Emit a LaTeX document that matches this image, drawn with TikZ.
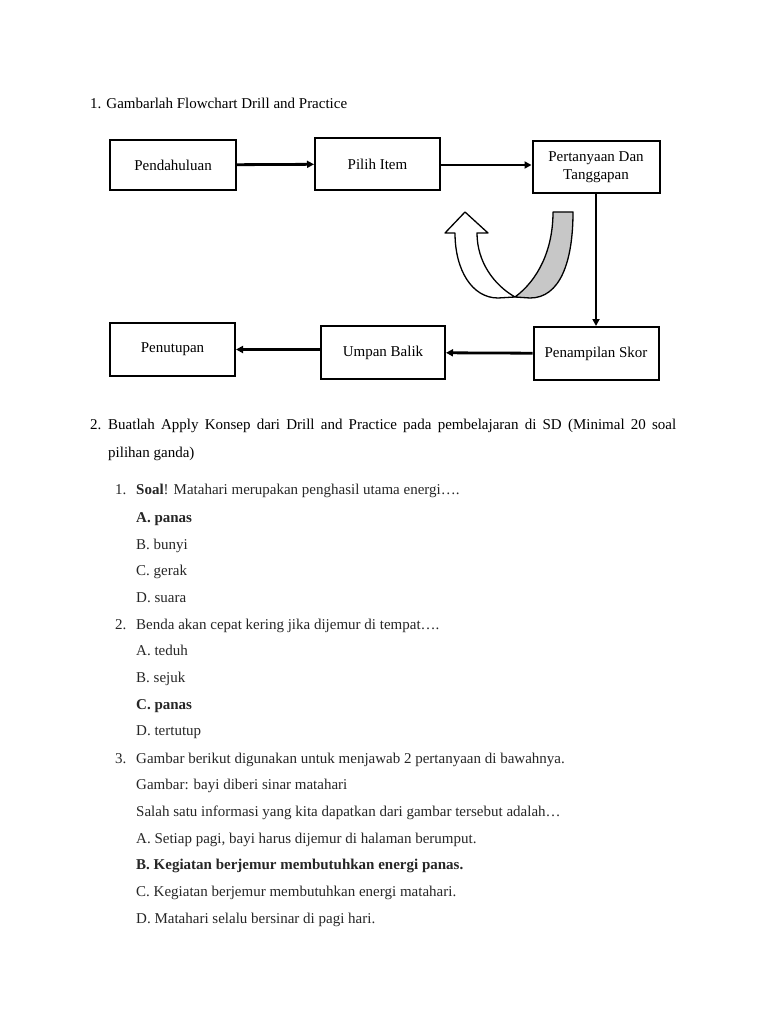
\documentclass[tikz,border=0pt]{standalone}
\usepackage{fontspec}
\setmainfont{Liberation Serif}
\usetikzlibrary{positioning, arrows.meta}

\begin{document}
\begin{tikzpicture}[
  x=1pt, y=-1pt,
  every node/.style={font=\fontsize{15}{18}\selectfont},
  box/.style={draw, line width=2pt, minimum width=125pt, minimum height=52pt, align=center, inner sep=2pt},
  flow/.style={line width=2.8pt, -{Triangle[length=7pt,width=7pt]}},
  txt/.style={anchor=base west, inner sep=0pt, text=black!85}
]
\useasboundingbox (0,0) rectangle (768,1024);

% part 1
\node[txt, text=black] (head1) at (90,108.5) {1. Gambarlah Flowchart Drill and Practice};

% flowchart boxes
\node[box, minimum width=126pt, minimum height=50pt] (pend) at (173,165) {Pendahuluan};
\node[box] (pilih) at (377.5,164) {Pilih Item};
\node[box, minimum width=127pt] (tanya) at (596,167) {Pertanyaan Dan\\Tanggapan};
\node[box, minimum height=53pt] (skor) at (596,353.5) {Penampilan Skor};
\node[box, minimum width=124pt, minimum height=53pt] (umpan) at (383,352.5) {Umpan Balik};
\node[box, minimum height=53pt] (tutup) at (172.5,349.5) {Penutupan};

\draw[flow] (pend) -- (pilih);
\draw[flow] (pilih.east |- pend.east) -- (tanya.west |- pend.east);
\draw[flow] (tanya) -- (skor);
\draw[flow] (skor) -- (umpan);
\draw[flow] (umpan.west |- tutup.east) -- (tutup);

% u-turn arrow
\filldraw[fill=black!22, line width=1.3pt, line join=round]
  (553,212) -- (573,212) .. controls (573,262) and (560,298) .. (530,298)
  -- (515,297) .. controls (538,280) and (553,250) .. cycle;
\filldraw[fill=white, line width=1.3pt, line join=round]
  (515,297) -- (498,298) .. controls (472,298) and (455,270) .. (455,233)
  -- (445,233) -- (465,212) -- (488,233) -- (477,233)
  .. controls (477,262) and (494,285) .. cycle;

% part 2
\node[txt, text=black] (n2) at (90,429) {2.};
\node[txt, text=black] (head2a) at (108,429)
  {\makebox[568pt][s]{Buatlah Apply Konsep dari Drill and Practice pada pembelajaran di SD (Minimal 20 soal}};
\node[txt, text=black] (head2b) at (108,457) {pilihan ganda)};

% question rows: (name, x, baseline, text)
\def\qrow#1#2#3#4{\node[txt] (#1) at (#2,#3) {#4};}
\qrow{n1}{115}{494}{1.}
\qrow{q1}{136}{494}{\textbf{Soal}! Matahari merupakan penghasil utama energi….}
\qrow{q1a}{136}{522}{\textbf{A. panas}}
\qrow{q1b}{136}{549}{B. bunyi}
\qrow{q1c}{136}{575.5}{C. gerak}
\qrow{q1d}{136}{602}{D. suara}
\qrow{n2}{115}{629}{2.}
\qrow{q2}{136}{629}{Benda akan cepat kering jika dijemur di tempat….}
\qrow{q2a}{136}{655.5}{A. teduh}
\qrow{q2b}{136}{682}{B. sejuk}
\qrow{q2c}{136}{709}{\textbf{C. panas}}
\qrow{q2d}{136}{735.5}{D. tertutup}
\qrow{n3}{115}{763}{3.}
\qrow{q3}{136}{763}{Gambar berikut digunakan untuk menjawab 2 pertanyaan di bawahnya.}
\qrow{q3g}{136}{789.5}{Gambar: bayi diberi sinar matahari}
\qrow{q3s}{136}{816}{Salah satu informasi yang kita dapatkan dari gambar tersebut adalah…}
\qrow{q3a}{136}{843}{A. Setiap pagi, bayi harus dijemur di halaman berumput.}
\qrow{q3b}{136}{869.5}{\textbf{B. Kegiatan berjemur membutuhkan energi panas.}}
\qrow{q3c}{136}{896}{C. Kegiatan berjemur membutuhkan energi matahari.}
\qrow{q3d}{136}{923}{D. Matahari selalu bersinar di pagi hari.}
\end{tikzpicture}
\end{document}
